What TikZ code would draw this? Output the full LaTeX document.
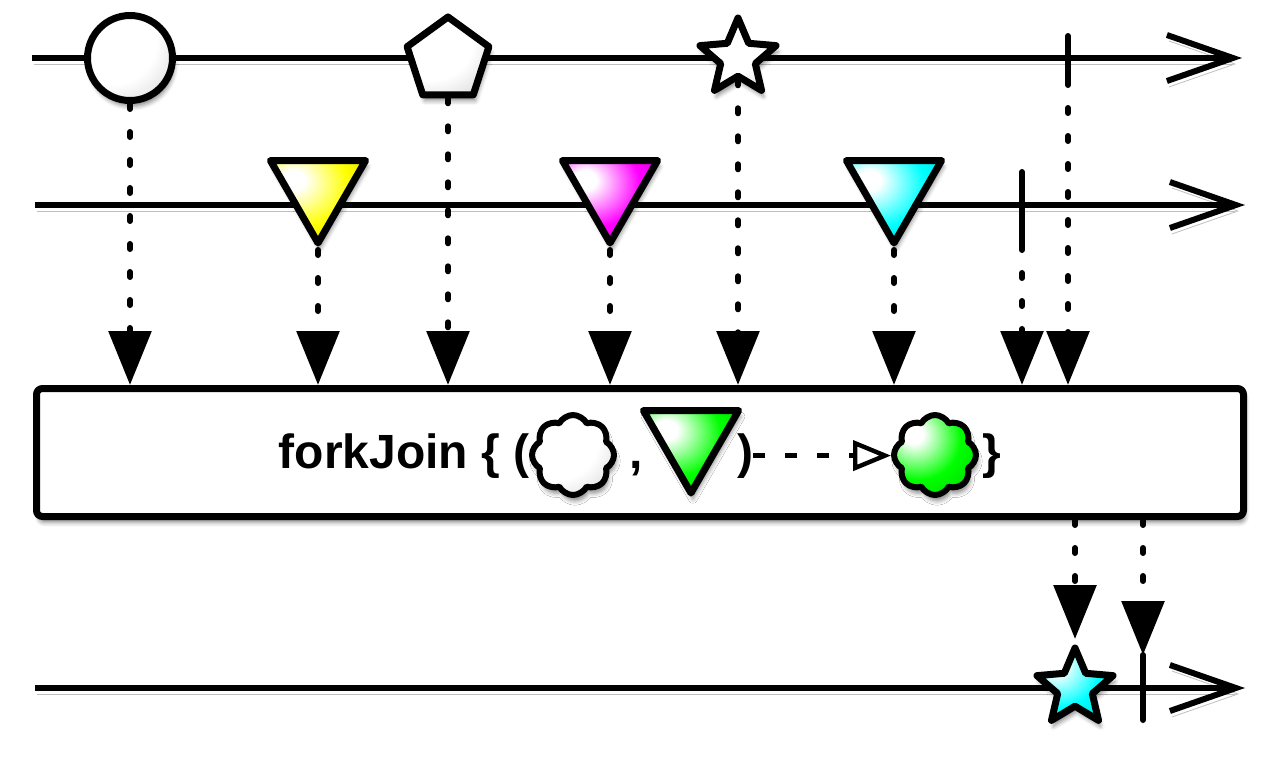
\documentclass[tikz,border=0pt]{standalone}
\usepackage{fontspec}
\setmainfont{Liberation Sans}
\usetikzlibrary{arrows.meta,shapes.geometric,shapes.symbols,shadows.blur}
\pgfdeclareradialshading[gloss]{glossy}{\pgfpoint{-14bp}{14bp}}{color(0bp)=(white); color(6bp)=(white); color(26bp)=(gloss); color(40bp)=(gloss!88!black); color(58bp)=(gloss!62!black); color(100bp)=(gloss!62!black)}
\tikzset{
	glossy/.style={/utils/exec={\colorlet{gloss}{#1}},shade,shading=glossy},
	marble/.style={draw=black,line width=3.5pt,line join=round,inner sep=0pt,blur shadow={shadow xshift=1pt,shadow yshift=-3pt,shadow opacity=45}},
	timeline/.style={line width=3pt,-{Straight Barb[length=33pt,width=23pt]},preaction={draw=black!25,transform canvas={xshift=1pt,yshift=-3pt}}},
	endtick/.style={line width=3pt,line cap=round},
	flow/.style={line width=3pt,line cap=round,dash pattern=on 2.5pt off 11.5pt,-{Triangle[length=27pt,width=21pt]}},
	tri/.style={marble,regular polygon,regular polygon sides=3,shape border rotate=180,minimum size=55pt},
	puff/.style={marble,cloud,cloud puffs=8,cloud puff arc=125,aspect=1,minimum width=41pt,minimum height=40pt,line width=3pt},
	txt/.style={inner sep=0pt,font=\bfseries\fontsize{24}{28}\selectfont}
}
\begin{document}
\begin{tikzpicture}[x=0.5pt,y=-0.5pt]
	\useasboundingbox (0,0) rectangle (1280,760);
	% first source
	\draw[timeline] (32,58) -- (1242,58);
	\draw[endtick] (1068,36) -- (1068,80) coordinate (end1);
	\node[marble,glossy=white,circle,minimum size=42.5pt] (c1) at (130,58) {};
	\node[marble,glossy=white,regular polygon,regular polygon sides=5,minimum size=43pt] (p1) at (448,60) {};
	\node[marble,glossy=white,star,star points=5,star point ratio=2.2,minimum size=40pt] (s1) at (738,58) {};
	% second source
	\draw[timeline] (35,205) -- (1245,205);
	\draw[endtick] (1022,172) -- (1022,245) coordinate (end2);
	\node[tri,glossy=yellow] (t1) at (318,188) {};
	\node[tri,glossy=magenta] (t2) at (610,188) {};
	\node[tri,glossy=cyan] (t3) at (894,188) {};
	% operator box
	\node[marble,rounded corners=3pt,minimum width=603.5pt,minimum height=64pt,fill=white] (box) at (640,452.5) {};
	\node[txt,anchor=base east] (lbl) at (530,468) {forkJoin \{ (};
	\node[puff,glossy=white] (wc) at (573,455) {};
	\node[txt,anchor=base] (cm) at (636,468) {,};
	\node[tri,glossy=green] (gt) at (691,438) {};
	\node[txt,anchor=base] (rp) at (745,468) {)};
	\node[puff,glossy=green] (gc) at (935,455) {};
	\node[txt,anchor=base] (rb) at (992,468) {\}};
	\draw[line width=2.2pt,dash pattern=on 6pt off 10pt,-{Triangle[open,length=19pt,width=15pt]}] (rp.east) -- (rp.east -| gc.west);
	% into the operator
	\draw[flow] (c1) -- (c1 |- box.north);
	\draw[flow] (t1) -- (t1 |- box.north);
	\draw[flow] (p1) -- (p1 |- box.north);
	\draw[flow] (t2) -- (t2 |- box.north);
	\draw[flow] (s1) -- (s1 |- box.north);
	\draw[flow] (t3) -- (t3 |- box.north);
	\draw[flow] (end2) -- (end2 |- box.north);
	\draw[flow] (end1) -- (end1 |- box.north);
	% result
	\draw[timeline] (35,688) -- (1245,688);
	\draw[endtick] (1143,655) coordinate (end3) -- (1143,720);
	\node[marble,glossy=cyan,star,star points=5,star point ratio=2.2,minimum size=40pt] (s2) at (1075,688) {};
	\draw[flow] (box.south -| s2) -- (s2);
	\draw[flow] (box.south -| end3) -- (end3);
\end{tikzpicture}
\end{document}
